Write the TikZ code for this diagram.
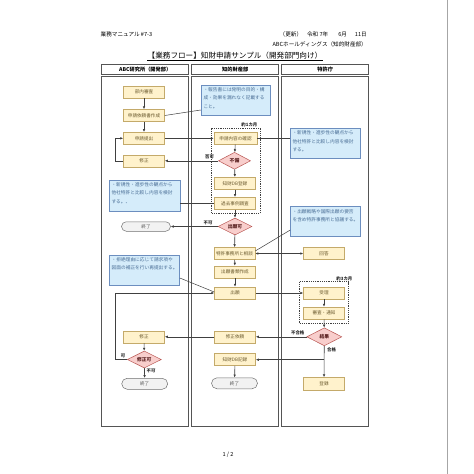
\documentclass[tikz,border=0pt]{standalone}
\usepackage{fontspec}
\setmainfont{Noto Sans CJK JP}
\usetikzlibrary{arrows.meta,shapes.geometric,shapes.misc,calc}
\definecolor{procfill}{HTML}{FFF2CC}
\definecolor{procdraw}{HTML}{C4AA6A}
\definecolor{proctext}{HTML}{6B5A2E}
\definecolor{notefill}{HTML}{D5ECFA}
\definecolor{notedraw}{HTML}{6C8EBF}
\definecolor{notetext}{HTML}{4A6E96}
\definecolor{decfill}{HTML}{F8CECC}
\definecolor{decdraw}{HTML}{B85450}
\definecolor{dectext}{HTML}{5A2020}
\definecolor{termfill}{HTML}{F2F2F2}
\definecolor{termdraw}{HTML}{707070}
\definecolor{termtext}{HTML}{555555}
\definecolor{lanedraw}{HTML}{555555}
\definecolor{linecol}{HTML}{404040}
\newcommand\boxfnt{\fontsize{4.6}{5.5}\selectfont}
\newcommand\notefnt{\fontsize{4.7}{8.3}\selectfont}
\newcommand\decfnt{\bfseries\fontsize{4.8}{5.5}\selectfont}
\newcommand\lblfnt{\bfseries\fontsize{4.4}{5}\selectfont}
\newcommand\hdrfnt{\fontsize{5.6}{6.5}\selectfont}
\newcommand\ttlfnt{\fontsize{7.6}{9}\selectfont}
\newcommand\lanefnt{\bfseries\fontsize{5.2}{6}\selectfont}
\begin{document}
\begin{tikzpicture}[x=1pt,y=-1pt,
  proc/.style={rectangle,draw=procdraw,fill=procfill,line width=0.5pt,minimum width=41pt,minimum height=12pt,inner sep=0pt,font=\boxfnt,text=proctext},
  dec/.style={diamond,aspect=2,draw=decdraw,fill=decfill,line width=0.5pt,inner sep=0pt,minimum width=34pt,minimum height=17pt,font=\decfnt,text=dectext},
  term/.style={rounded rectangle,draw=termdraw,fill=termfill,line width=0.5pt,inner sep=0pt,minimum width=46pt,minimum height=11pt,font=\boxfnt,text=termtext},
  note/.style={rectangle,draw=notedraw,fill=notefill,line width=0.5pt,inner sep=2.5pt,font=\notefnt,text=notetext},
  flow/.style={draw=linecol,line width=0.6pt,-{Latex[length=3pt,width=2.6pt]}},
  biflow/.style={draw=linecol,line width=0.6pt,{Latex[length=3pt,width=2.6pt]}-{Latex[length=3pt,width=2.6pt]}},
  link/.style={draw=linecol,line width=0.5pt},
  grp/.style={draw=black!75,line width=0.6pt,dash pattern=on 1.2pt off 1pt},
  lanehead/.style={rectangle,draw=lanedraw,line width=0.9pt,minimum width=87pt,minimum height=10pt,inner sep=0pt,font=\lanefnt},
  lanebody/.style={draw=lanedraw,line width=0.8pt},
  lbl/.style={font=\lblfnt,inner sep=0.5pt,text=black!85}
]
\path[use as bounding box] (0,0) rectangle (474,474);
\fill[white] (0,0) rectangle (474,474);
\draw[black!35,line width=1pt] (447,0) -- (447,474);

% header
\node[anchor=base west,font=\hdrfnt,inner sep=0pt] (hdr1) at (100.5,36.5) {業務マニュアル \#7-3};
\node[anchor=base east,font=\hdrfnt,inner sep=0pt] (hdr2) at (367,36.5) {（更新）\hspace{5pt}令和 7年\hspace{10pt}6月\hspace{8pt}11日};
\node[anchor=base east,font=\hdrfnt,inner sep=0pt] (hdr3) at (367,46.5) {ABCホールディングス（知的財産部）};
\node[font=\ttlfnt,inner sep=0.5pt] (title) at (235,55.5) {【業務フロー】知財申請サンプル（開発部門向け）};
\draw[line width=0.5pt] ($(title.south west)+(0,0.8)$) -- ($(title.south east)+(0,0.8)$);
\node[font=\hdrfnt,inner sep=0pt] (page) at (228,455) {1 / 2};

% lanes
\node[lanehead] (h1) at (145.2,69.7) {ABC研究所（開発部）};
\node[lanehead] (h2) at (235.2,69.7) {知的財産部};
\node[lanehead] (h3) at (325.2,69.7) {特許庁};
\draw[lanebody] (101.7,76.7) rectangle (188.7,426);
\draw[lanebody] (191.7,76.7) rectangle (278.7,426);
\draw[lanebody] (281.7,76.7) rectangle (368.7,426);

% groups
\draw[grp] (211,128.3) rectangle (260,213.3);
\node[lbl,anchor=south east] (g1l) at (258,128) {約1カ月};
\draw[grp] (299.3,281.7) rectangle (348.7,323.3);
\node[lbl,anchor=south east] (g2l) at (353,281.5) {約3カ月};

% notes
\node[note] (note1) at (235.5,100) {\parbox[c][25pt][t]{64pt}{\raggedright ・報告書には発明の目的・構\\成・効果を漏れなく記載する\\こと。}};
\node[note] (note2) at (325,143.3) {\parbox[c][25pt][t]{65pt}{\raggedright ・新規性・進歩性の観点から\\他社特許と比較し内容を検討\\する。}};
\node[note] (note3) at (144.5,195.8) {\parbox[c][26.5pt][t]{66pt}{\raggedright ・新規性・進歩性の観点から\\他社特許と比較し内容を検討\\する。、}};
\node[note] (note4) at (144.2,270) {\parbox[c][25pt][t]{65pt}{\raggedright ・拒絶理由に応じて請求項や\\図面の補正を行い再提出する。}};
\node[note] (note5) at (325.3,221.7) {\parbox[c][25pt][t]{65.5pt}{\raggedright ・出願戦略や国際出願の要否\\を含め特許事務所と協議する。}};

% lane 1
\node[proc] (bu) at (144,92) {部内審査};
\node[proc] (irai) at (144,115.5) {申請依頼書作成};
\node[proc] (teishutsu) at (144,138.3) {申請提出};
\node[proc] (shusei1) at (144,160.8) {修正};
\node[term,minimum width=49pt,minimum height=9.5pt] (end1) at (146,226.5) {終了};
\node[proc] (shusei2) at (144,336.8) {修正};
\node[dec] (kanou) at (144.3,359.5) {修正可};
\node[term] (end2) at (144.7,383.8) {終了};

% lane 2
\node[proc,minimum width=43pt] (kakunin) at (235.5,138.3) {申請内容の確認};
\node[dec,minimum width=32pt] (fubi) at (234.5,160.8) {不備};
\node[proc] (dbtoroku) at (235,183.3) {知財DB登録};
\node[proc] (kako) at (235,203.3) {過去事例調査};
\node[dec] (shutsuganka) at (235,226.5) {出願可};
\node[proc] (soudan) at (234.5,253.5) {特許事務所と相談};
\node[proc] (sakusei) at (235,272) {出願書類作成};
\node[proc] (shutsugan) at (235,293) {出願};
\node[proc] (irai2) at (235,336.8) {修正依頼};
\node[proc] (dbkiroku) at (235,359.7) {知財DB記録};
\node[term] (end3) at (234.5,383.3) {終了};

% lane 3
\node[proc] (kaitou) at (324,253.5) {回答};
\node[proc] (juri) at (324,293) {受理};
\node[proc] (shinsa) at (324,313) {審査・通知};
\node[dec,minimum width=35pt,minimum height=18pt] (kekka) at (324.3,336.8) {結果};
\node[proc,minimum height=13pt] (touroku) at (324,384) {登録};

% connectors lane 1
\draw[flow] (bu) -- (irai);
\draw[flow] (irai) -- (teishutsu);
\draw[flow] (teishutsu.east) -- (kakunin.west);
\draw[flow] (shusei1.west) -- ++(-8.3,0) |- (teishutsu.west);
\draw[link] (irai.east) -- ($(note1.west)+(0,10)$);

% lane 2 main flow
\draw[flow] (kakunin) -- (fubi);
\draw[flow] (fubi) -- (dbtoroku);
\draw[flow] (dbtoroku) -- (kako);
\draw[flow] (kako) -- (shutsuganka);
\draw[flow] (shutsuganka) -- (soudan);
\draw[flow] (soudan) -- (sakusei);
\draw[flow] (sakusei) -- (shutsugan);
\draw[flow] (fubi.west) -- (shusei1.east);
\node[lbl,anchor=south] (l1) at (209.5,160) {否可};
\draw[link] (kakunin.east) -- (note2.west |- kakunin.east);
\draw[link] (note3.east |- kako.west) -- (kako.west);
\draw[flow] (shutsuganka.west) -- (end1.east);
\node[lbl,anchor=south] (l2) at (208,225.8) {不可};
\coordinate (n5) at (290.3,230);
\draw[link] (n5) -- ($(soudan.east)+(0,-2.5)$);
\draw[biflow] (soudan.east) -- (kaitou.west);

% lower part
\coordinate (n4) at (179.8,278);
\draw[link] (n4) -- ($(shutsugan.west)+(0,-1)$);
\draw[flow] (kanou.west) -- ++(-11.3,0) |- (shutsugan.west);
\node[lbl,anchor=south east] (l3) at (126,358.5) {可};
\draw[flow] (shutsugan.east) -- (juri.west);
\draw[flow] (juri) -- (shinsa);
\draw[flow] (shinsa) -- (kekka);
\draw[flow] (kekka.west) -- (irai2.east);
\node[lbl,anchor=south east] (l4) at (305,336) {不合格};
\draw[flow] (irai2.west) -- (shusei2.east);
\draw[flow] (shusei2) -- (kanou);
\draw[flow] (kanou) -- (end2);
\node[lbl,anchor=west] (l5) at (146,371) {不可};
\draw[flow] (kekka) -- (touroku);
\node[lbl,anchor=west] (l6) at (326.5,349.5) {合格};
\coordinate (br) at (kekka.south |- dbkiroku.east);
\draw[flow] (br) -- (dbkiroku.east);
\draw[flow] (dbkiroku) -- (end3);
\end{tikzpicture}
\end{document}
